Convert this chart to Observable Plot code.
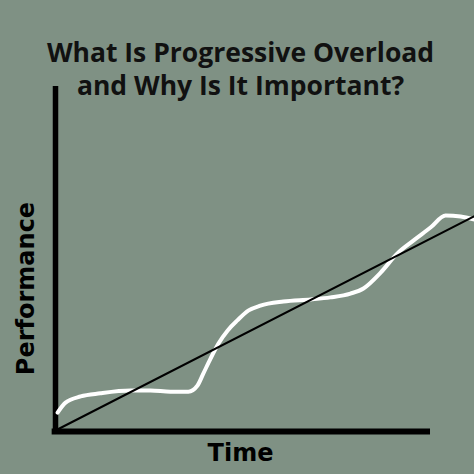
<!DOCTYPE html>
<html>
<head>
<meta charset="utf-8">
<script src="https://cdn.jsdelivr.net/npm/d3@7"></script>
<script src="https://cdn.jsdelivr.net/npm/@observablehq/plot@0.6"></script>
<style>
  html, body { margin: 0; padding: 0; background: #7f9184; }
</style>
</head>
<body>
<div id="chart"></div>
<script>
// Title and labels
const titleText = "What Is Progressive Overload\nand Why Is It Important?";
const xLabel = "Time";
const yLabel = "Performance";

// White performance curve (time, performance)
const curveTime = [0.5, 2.4, 6.0, 10.7, 17.9, 22.7, 27.4, 31.7, 33.9, 35.3, 37.0, 38.9, 41.1, 43.4, 46.1, 48.9, 54.4, 60.9, 65.6, 70.4, 73.5, 77.6, 81.6, 85.4, 89.5, 93.1, 96.7, 100];
const curvePerf = [5.2, 8.1, 9.9, 10.8, 11.6, 11.6, 11.3, 11.3, 13.1, 16.6, 20.9, 25.3, 29.1, 32.0, 34.9, 36.3, 37.5, 38.1, 38.7, 39.8, 41.3, 45.9, 51.5, 55.2, 59.0, 62.5, 62.2, 61.3];

// Straight trend line (linear progression)
const trendTime = [0, 100];
const trendPerf = [0, 62.3];

// Axis line extents
const yAxisExtent = [-0.9, 100];
const xAxisExtent = [-0.8, 89.5];

const curve = curveTime.map((t, i) => ({t, p: curvePerf[i]}));
const trend = trendTime.map((t, i) => ({t, p: trendPerf[i]}));

const chart = Plot.plot({
  width: 474,
  height: 474,
  marginLeft: 55,
  marginRight: 0,
  marginTop: 86,
  marginBottom: 44,
  x: {domain: [0, 100], axis: null},
  y: {domain: [0, 100], axis: null},
  style: {background: "#7f9184", fontFamily: "DejaVu Sans", overflow: "visible"},
  marks: [
    Plot.ruleX([0], {y1: yAxisExtent[0], y2: yAxisExtent[1], stroke: "black", strokeWidth: 5.5}),
    Plot.ruleY([-0.3], {x1: xAxisExtent[0], x2: xAxisExtent[1], stroke: "black", strokeWidth: 6}),
    Plot.line(curve, {x: "t", y: "p", stroke: "white", strokeWidth: 4, curve: "monotone-x", strokeLinecap: "round"}),
    Plot.line(trend, {x: "t", y: "p", stroke: "black", strokeWidth: 2}),
    Plot.text([titleText], {frameAnchor: "top", text: d => d, dx: -24.5, dy: 8, lineAnchor: "bottom", lineHeight: 1.245, fontSize: 26.5, fontWeight: "bold", fontFamily: "Open Sans", fill: "#111"}),
    Plot.text([xLabel], {frameAnchor: "bottom", text: d => d, dx: -24.5, dy: 30, lineAnchor: "bottom", fontSize: 24, fontWeight: "bold", fill: "black"}),
    Plot.text([yLabel], {frameAnchor: "left", text: d => d, textAnchor: "middle", dx: -22, dy: 30, rotate: -90, lineAnchor: "bottom", fontSize: 24, fontWeight: "bold", fill: "black"})
  ]
});
document.getElementById("chart").appendChild(chart);
</script>
</body>
</html>
